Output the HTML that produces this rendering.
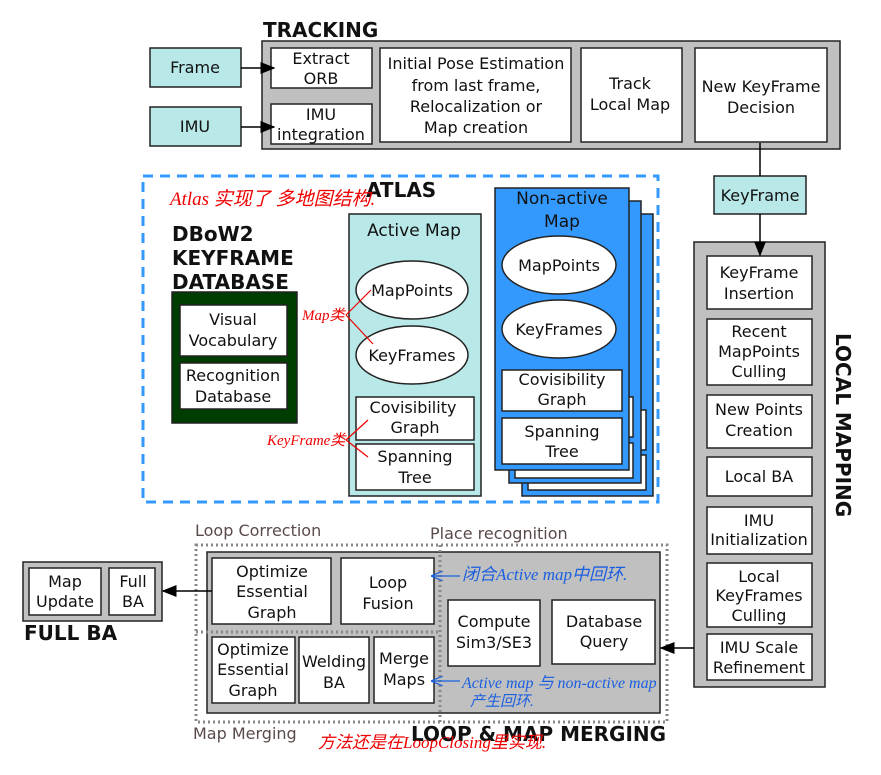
<!DOCTYPE html>
<html><head><meta charset="utf-8"><style>
html,body{margin:0;padding:0;background:#fff}
svg text{font-family:"DejaVu Sans","Liberation Sans",sans-serif;font-size:16px;fill:#111}
.b{font-weight:bold;font-size:20px}
.hr{fill:#e00;font-family:"Liberation Serif","Noto Sans CJK SC",serif;font-style:italic;font-size:15px}
.hb{fill:#1a5fe0;font-family:"Liberation Serif","Noto Sans CJK SC",serif;font-style:italic;font-size:15px}
.g{fill:#5a4a4a}
</style></head><body>
<svg width="881" height="770" viewBox="0 0 881 770" xmlns="http://www.w3.org/2000/svg">
<defs><marker id="a" markerWidth="10" markerHeight="8" refX="9" refY="4" orient="auto"><path d="M0,0L10,4L0,8z" fill="#000"/></marker>
<marker id="ab" markerWidth="10" markerHeight="8" refX="9" refY="4" orient="auto"><path d="M0,0L10,4L0,8" fill="none" stroke="#1a5fe0"/></marker></defs>
<g stroke="#222" stroke-width="1.5">
<rect x="262" y="41" width="578" height="108" fill="#c0c0c0"/>
<rect x="271" y="48" width="101" height="40" fill="#fff"/>
<rect x="271" y="104" width="101" height="40" fill="#fff"/>
<rect x="380" y="48" width="191" height="94" fill="#fff"/>
<rect x="581" y="48" width="101" height="94" fill="#fff"/>
<rect x="695" y="48" width="132" height="94" fill="#fff"/>
<rect x="150" y="48" width="91" height="39" fill="#b8e8e8"/>
<rect x="150" y="107" width="91" height="39" fill="#b8e8e8"/>
<rect x="714" y="176" width="92" height="38" fill="#b8e8e8"/>
<rect x="694" y="242" width="131" height="445" fill="#c0c0c0"/>
<rect x="707" y="256" width="105" height="53" fill="#fff"/>
<rect x="707" y="319" width="105" height="66" fill="#fff"/>
<rect x="707" y="395" width="105" height="53" fill="#fff"/>
<rect x="707" y="457" width="105" height="39" fill="#fff"/>
<rect x="707" y="507" width="105" height="47" fill="#fff"/>
<rect x="707" y="563" width="105" height="64" fill="#fff"/>
<rect x="707" y="634" width="105" height="46" fill="#fff"/>
<rect x="172" y="292" width="125" height="131" fill="#003d00"/>
<rect x="180" y="305" width="107" height="51" fill="#fff"/>
<rect x="180" y="363" width="107" height="46" fill="#fff"/>
<rect x="349" y="214" width="132" height="282" fill="#b8e8e8"/>
<ellipse cx="412" cy="290" rx="56" ry="29" fill="#fff"/>
<ellipse cx="412" cy="355" rx="56" ry="29" fill="#fff"/>
<rect x="356" y="397" width="118" height="43" fill="#fff"/>
<rect x="356" y="444" width="118" height="46" fill="#fff"/>
<rect x="522" y="214" width="131" height="282" fill="#3399ff"/>
<rect x="528" y="410" width="118" height="40" fill="#fff"/>
<rect x="528" y="455" width="118" height="35" fill="#fff"/>
<rect x="509" y="201" width="132" height="282" fill="#3399ff"/>
<rect x="515" y="397" width="118" height="40" fill="#fff"/>
<rect x="515" y="443" width="118" height="35" fill="#fff"/>
<rect x="495" y="188" width="134" height="282" fill="#3399ff"/>
<ellipse cx="559" cy="265" rx="57" ry="29" fill="#fff"/>
<ellipse cx="559" cy="329" rx="57" ry="29" fill="#fff"/>
<rect x="502" y="370" width="120" height="41" fill="#fff"/>
<rect x="502" y="418" width="120" height="46" fill="#fff"/>
<rect x="207" y="552" width="453" height="161" fill="#c0c0c0"/>
<rect x="212" y="558" width="119" height="66" fill="#fff"/>
<rect x="341" y="558" width="93" height="66" fill="#fff"/>
<rect x="212" y="637" width="83" height="66" fill="#fff"/>
<rect x="299" y="637" width="70" height="66" fill="#fff"/>
<rect x="374" y="637" width="60" height="66" fill="#fff"/>
<rect x="448" y="600" width="92" height="66" fill="#fff"/>
<rect x="552" y="600" width="103" height="64" fill="#fff"/>
<rect x="23" y="562" width="139" height="59" fill="#c0c0c0"/>
<rect x="29" y="568" width="72" height="47" fill="#fff"/>
<rect x="109" y="568" width="46" height="47" fill="#fff"/>
</g>
<rect x="143" y="176" width="515" height="326" fill="none" stroke="#3399ff" stroke-width="3" stroke-dasharray="10,7"/>
<g fill="none" stroke="#888" stroke-width="3" stroke-dasharray="2,3">
<rect x="196" y="545" width="471" height="177"/>
<line x1="440" y1="545" x2="440" y2="722"/>
<line x1="196" y1="632" x2="440" y2="632"/>
</g>
<g stroke="#000" stroke-width="1.5" fill="none">
<line x1="241" y1="68" x2="274" y2="68" marker-end="url(#a)"/>
<line x1="241" y1="127" x2="274" y2="127" marker-end="url(#a)"/>
<line x1="760" y1="143" x2="760" y2="176"/>
<line x1="760" y1="214" x2="760" y2="255" marker-end="url(#a)"/>
<line x1="694" y1="648" x2="661" y2="648" marker-end="url(#a)"/>
<line x1="212" y1="591" x2="163" y2="591" marker-end="url(#a)"/>
</g>
<g stroke="#e00" stroke-width="1.2" fill="none">
<path d="M346,315L371,290M346,315L373,344M346,440L368,420M346,440L368,457"/>
</g>
<g stroke="#1a5fe0" stroke-width="1.2" fill="none">
<line x1="460" y1="576" x2="432" y2="576" marker-end="url(#ab)"/>
<line x1="460" y1="681" x2="432" y2="681" marker-end="url(#ab)"/>
</g>
<g text-anchor="middle">
<text x="321" y="64">Extract</text><text x="321" y="84">ORB</text>
<text x="321" y="120">IMU</text><text x="321" y="140">integration</text>
<text x="476" y="69">Initial Pose Estimation</text><text x="476" y="91">from last frame,</text><text x="476" y="112">Relocalization or</text><text x="476" y="133">Map creation</text>
<text x="630" y="89">Track</text><text x="630" y="110">Local Map</text>
<text x="761" y="92">New KeyFrame</text><text x="761" y="113">Decision</text>
<text x="195" y="73">Frame</text><text x="195" y="132">IMU</text>
<text x="760" y="201">KeyFrame</text>
<text x="759" y="278">KeyFrame</text><text x="759" y="299">Insertion</text>
<text x="759" y="337">Recent</text><text x="759" y="357">MapPoints</text><text x="759" y="377">Culling</text>
<text x="759" y="415">New Points</text><text x="759" y="436">Creation</text>
<text x="759" y="482">Local BA</text>
<text x="759" y="526">IMU</text><text x="759" y="545">Initialization</text>
<text x="759" y="582">Local</text><text x="759" y="601">KeyFrames</text><text x="759" y="621">Culling</text>
<text x="759" y="653">IMU Scale</text><text x="759" y="673">Refinement</text>
<text x="233" y="325">Visual</text><text x="233" y="346">Vocabulary</text>
<text x="233" y="381">Recognition</text><text x="233" y="402">Database</text>
<text x="414" y="236" style="font-size:17px">Active Map</text>
<text x="412" y="296">MapPoints</text><text x="412" y="361">KeyFrames</text>
<text x="413" y="413">Covisibility</text><text x="415" y="433">Graph</text>
<text x="415" y="462">Spanning</text><text x="415" y="483">Tree</text>
<text x="562" y="204" style="font-size:17px">Non-active</text><text x="562" y="227" style="font-size:17px">Map</text>
<text x="559" y="271">MapPoints</text><text x="559" y="335">KeyFrames</text>
<text x="562" y="385">Covisibility</text><text x="562" y="405">Graph</text>
<text x="562" y="437">Spanning</text><text x="562" y="457">Tree</text>
<text x="272" y="577">Optimize</text><text x="272" y="597">Essential</text><text x="272" y="618">Graph</text>
<text x="388" y="588">Loop</text><text x="388" y="609">Fusion</text>
<text x="253" y="655">Optimize</text><text x="253" y="675">Essential</text><text x="253" y="696">Graph</text>
<text x="334" y="667">Welding</text><text x="334" y="688">BA</text>
<text x="404" y="664">Merge</text><text x="404" y="685">Maps</text>
<text x="494" y="627">Compute</text><text x="494" y="648">Sim3/SE3</text>
<text x="604" y="627">Database</text><text x="604" y="647">Query</text>
<text x="65" y="587">Map</text><text x="65" y="607">Update</text>
<text x="133" y="587">Full</text><text x="133" y="607">BA</text>
</g>
<text x="263" y="37" class="b">TRACKING</text>
<text x="366" y="197" class="b">ATLAS</text>
<text x="172" y="241" class="b">DBoW2</text>
<text x="172" y="265" class="b">KEYFRAME</text>
<text x="172" y="289" class="b">DATABASE</text>
<text x="24" y="640" class="b">FULL BA</text>
<text x="411" y="741" class="b">LOOP &amp; MAP MERGING</text>
<text transform="translate(836,333) rotate(90)" class="b">LOCAL MAPPING</text>
<text x="195" y="536" class="g">Loop Correction</text>
<text x="430" y="539" class="g">Place recognition</text>
<text x="193" y="739" class="g">Map Merging</text>
<text x="170" y="205" class="hr" style="font-size:19px">Atlas 实现了 多地图结构.</text>
<text x="302" y="320" class="hr">Map类</text>
<text x="267" y="445" class="hr">KeyFrame类</text>
<text x="462" y="580" class="hb" style="font-size:17px">闭合Active map中回环.</text>
<text x="462" y="688" class="hb" style="font-size:16px">Active map 与 non-active map</text>
<text x="470" y="706" class="hb">产生回环.</text>
<text x="318" y="748" class="hr" style="font-size:17px">方法还是在LoopClosing里实现.</text>
</svg>
</body></html>
